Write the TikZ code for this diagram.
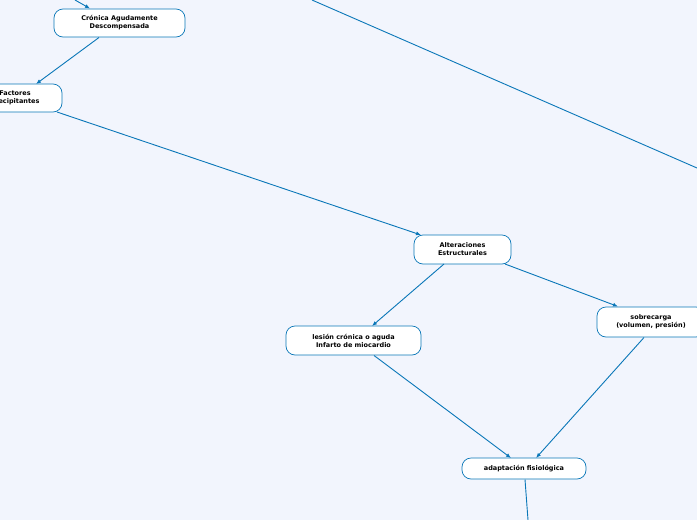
\documentclass[tikz,border=0pt]{standalone}
\usepackage{fontspec}
\usetikzlibrary{arrows.meta}
\setmainfont{DejaVu Sans}
\definecolor{bg}{HTML}{F2F5FD}
\definecolor{ln}{HTML}{0A77B8}
\begin{document}
\begin{tikzpicture}[x=1pt,y=-1pt,
  box/.style={draw=ln,fill=white,rounded corners=9pt,align=center,font=\bfseries\fontsize{6.5}{8}\selectfont,inner sep=0pt,line width=0.7pt},
  con/.style={draw=ln,line width=0.9pt,-{Latex[length=5pt,width=4pt]}},
  conn/.style={draw=ln,line width=0.9pt}]
\useasboundingbox (0,0) rectangle (697,520);
\fill[bg] (0,0) rectangle (697,520);
\clip (0,0) rectangle (697,520);
\node[box,minimum width=131pt,minimum height=28pt] (cro) at (119.5,23) {Crónica Agudamente\\Descompensada};
\node[box,minimum width=94pt,minimum height=28pt] (fac) at (15,98) {Factores\\Precipitantes};
\node[box,minimum width=97pt,minimum height=29pt] (alt) at (462.5,249.5) {Alteraciones\\Estructurales};
\node[box,minimum width=135pt,minimum height=29pt] (les) at (353.5,340.5) {lesión crónica o aguda\\Infarto de miocardio};
\node[box,minimum width=108pt,minimum height=30pt] (sob) at (651,322) {sobrecarga\\(volumen, presión)};
\node[box,minimum width=124pt,minimum height=21pt] (ada) at (524,468.5) {adaptación fisiológica};
\coordinate (t1) at (75,0);
\coordinate (t2) at (312,0);
\coordinate (t3) at (697,168);
\coordinate (t4) at (528,520);
\draw[con] (t1) -- (90,8.5);
\draw[con] (99,37.5) -- (36,84);
\draw[con] (57,112) -- (421,235);
\draw[conn] (t2) -- (t3);
\draw[con] (444,264) -- (372,326);
\draw[con] (505,264) -- (618,306.5);
\draw[con] (374,355.5) -- (511,458);
\draw[con] (644,337.5) -- (536,458);
\draw[conn] (525,479.5) -- (t4);
\end{tikzpicture}
\end{document}
